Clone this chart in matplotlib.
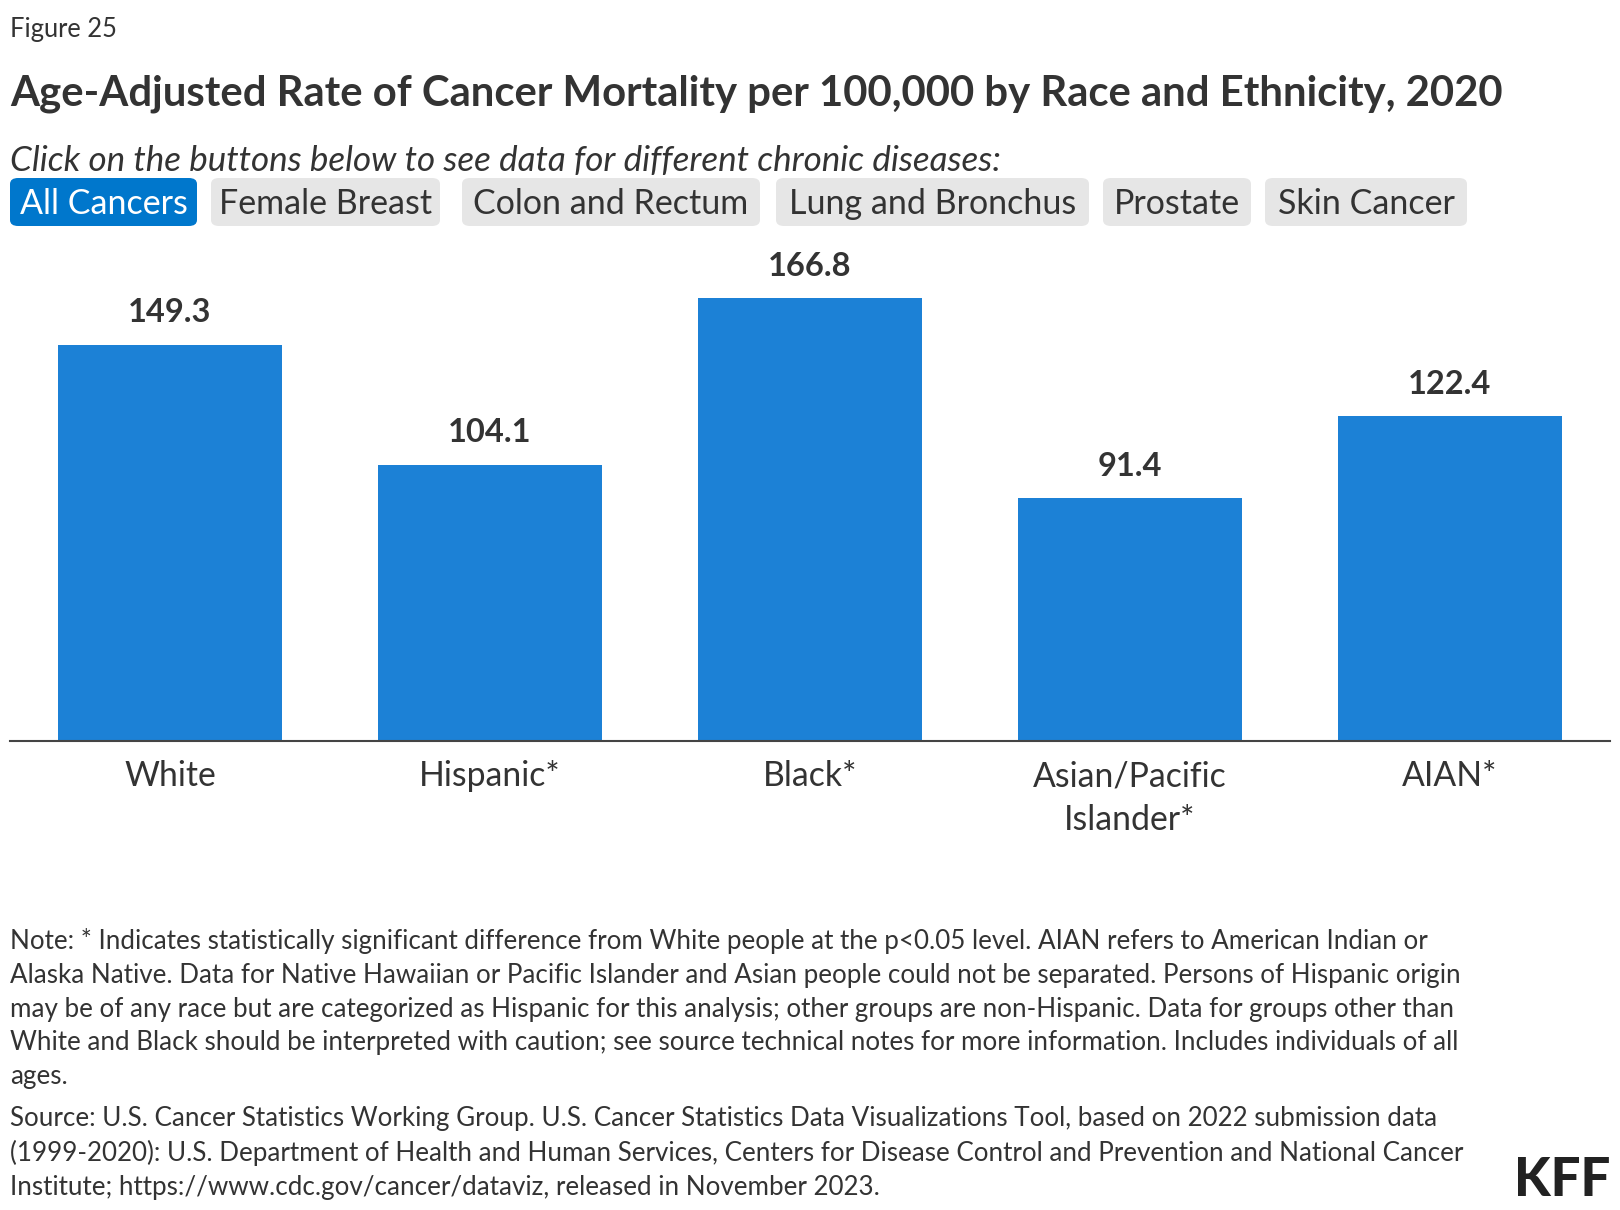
import matplotlib.pyplot as plt
from matplotlib.patches import FancyBboxPatch

# data
groups = ['White', 'Hispanic*', 'Black*', 'Asian/Pacific\nIslander*', 'AIAN*']
rates = [149.3, 104.1, 166.8, 91.4, 122.4]
buttons = ['All Cancers', 'Female Breast', 'Colon and Rectum',
           'Lung and Bronchus', 'Prostate', 'Skin Cancer']

plt.rcParams['font.family'] = ['Lato', 'DejaVu Sans']

W, H = 1620, 1210
fig = plt.figure(figsize=(W / 100, H / 100), dpi=100)


def fx(x):
    return x / W


def fy(y):
    return 1 - y / H


dark = '#333333'
blue = '#1c81d6'

# header
fig.text(fx(10), fy(29), 'Figure 25', fontsize=18.4, color=dark, va='center')
fig.text(fx(10), fy(94), 'Age-Adjusted Rate of Cancer Mortality per 100,000 by Race and Ethnicity, 2020',
         fontsize=30.2, fontweight='bold', color=dark, va='center')
fig.text(fx(10), fy(161), 'Click on the buttons below to see data for different chronic diseases:',
         fontsize=25.2, style='italic', color=dark, va='center')

# buttons
btn_x = [(10, 197), (211, 440), (462, 760), (776, 1089), (1103, 1251), (1265, 1467)]
for i, (label, (x0, x1)) in enumerate(zip(buttons, btn_x)):
    active = i == 0
    box = FancyBboxPatch((fx(x0), fy(226)), fx(x1 - x0), (226 - 178) / H,
                         boxstyle='round,pad=0,rounding_size=0.005',
                         transform=fig.transFigure, linewidth=0,
                         facecolor='#0077cc' if active else '#e6e6e6')
    fig.patches.append(box)
    fig.text(fx((x0 + x1) / 2), fy(204), label, fontsize=24.5,
             color='white' if active else dark, ha='center', va='center')

# chart
ymax = 180
base = 741
top = base - ymax * 2.655
ax = fig.add_axes([fx(10), fy(base), fx(1600), (base - top) / H])
x = range(len(groups))
ax.bar(x, rates, width=0.7, color=blue)
ax.set_xlim(-0.5, len(groups) - 0.5)
ax.set_ylim(0, ymax)
for xi, v in zip(x, rates):
    ax.annotate(f'{v}', (xi, v), xytext=(0, 23), textcoords='offset points',
                ha='center', va='center', fontsize=23.5, fontweight='bold', color=dark)
ax.set_xticks(list(x))
ax.set_xticklabels(groups, fontsize=24.3, color=dark, linespacing=1.45)
ax.tick_params(axis='x', length=0, pad=14)
ax.set_yticks([])
for s in ['top', 'right', 'left']:
    ax.spines[s].set_visible(False)
ax.spines['bottom'].set_color('#444444')
ax.spines['bottom'].set_linewidth(1.5)

# notes
note = ('Note: * Indicates statistically significant difference from White people at the p<0.05 level. AIAN refers to American Indian or\n'
        'Alaska Native. Data for Native Hawaiian or Pacific Islander and Asian people could not be separated. Persons of Hispanic origin\n'
        'may be of any race but are categorized as Hispanic for this analysis; other groups are non-Hispanic. Data for groups other than\n'
        'White and Black should be interpreted with caution; see source technical notes for more information. Includes individuals of all\n'
        'ages.')
source = ('Source: U.S. Cancer Statistics Working Group. U.S. Cancer Statistics Data Visualizations Tool, based on 2022 submission data\n'
          '(1999-2020): U.S. Department of Health and Human Services, Centers for Disease Control and Prevention and National Cancer\n'
          'Institute; https://www.cdc.gov/cancer/dataviz, released in November 2023.')
fig.text(fx(10), fy(928), note, fontsize=18.7, color=dark, va='top', linespacing=1.44)
fig.text(fx(10), fy(1106), source, fontsize=18.7, color=dark, va='top', linespacing=1.44)

fig.text(fx(1610), fy(1196), 'KFF', fontsize=38, fontweight='black', color='#222222',
         ha='right', va='baseline')

fig.savefig('out.png', dpi=100)
